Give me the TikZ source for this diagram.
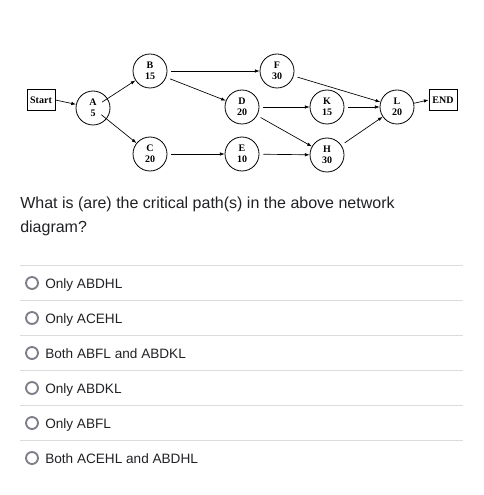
\documentclass[tikz,border=0pt]{standalone}
\usepackage{fontspec}
\setmainfont{Liberation Serif}
\newfontfamily\formfont{Liberation Sans}
\usetikzlibrary{arrows.meta}

\definecolor{formtext}{HTML}{202124}
\definecolor{radiogray}{HTML}{807C88}
\definecolor{rulegray}{HTML}{DADCE0}

\tikzset{
  activity/.style={draw, circle, line width=0.6pt, minimum size=25.5pt, inner sep=0pt,
    align=center, font=\bfseries\fontsize{7.5}{8.25}\selectfont},
  terminal/.style={draw, line width=0.6pt, minimum width=21pt, minimum height=16pt,
    inner sep=1pt, font=\bfseries\fontsize{7.5}{8.25}\selectfont},
  link/.style={-{Latex[length=3.5pt,width=2.6pt]}, line width=0.5pt, shorten <=3pt},
  question/.style={anchor=north west, align=left, inner sep=0pt, text=formtext,
    font=\formfont\fontsize{12}{18}\selectfont},
  choice/.style={anchor=base west, inner sep=0pt, text=formtext,
    font=\formfont\fontsize{10.2}{12}\selectfont},
  radio/.style={draw=radiogray, line width=1.4pt, circle, minimum size=9pt, inner sep=0pt},
  divider/.style={draw=rulegray, line width=0.75pt}
}

\begin{document}
\begin{tikzpicture}[x=0.75pt,y=-0.75pt]

  \useasboundingbox (0,0) rectangle (484,495);

  % Network
  \node[terminal] (start) at (41,100) {Start};
  \node[activity] (A) at (93,108) {A\\5};
  \node[activity] (B) at (150,71) {B\\15};
  \node[activity] (C) at (150,154) {C\\20};
  \node[activity] (D) at (242,107) {D\\20};
  \node[activity] (E) at (242,154) {E\\10};
  \node[activity] (F) at (277,71) {F\\30};
  \node[activity] (K) at (327,107) {K\\15};
  \node[activity] (H) at (327,155) {H\\30};
  \node[activity] (L) at (397,107) {L\\20};
  \node[terminal] (end) at (443,100) {END};

  % Precedence arrows
  \draw[link,shorten <=0pt] (start.east) -- (A);
  \draw[link,shorten <=-5pt] (A) -- (B);
  \draw[link,shorten <=-5pt] (A) -- (C);
  \draw[link] (B) -- (F);
  \draw[link] (B) -- (D);
  \draw[link] (C) -- (E);
  \draw[link] (D) -- (K);
  \draw[link] (D) -- (H);
  \draw[link] (E) -- (H);
  \draw[link] (F) -- (L);
  \draw[link] (K) -- (L);
  \draw[link] (H) -- (L);
  \draw[link,shorten <=0pt] (L) -- (end.west);

  % Question
  \node[question] (quest) at (20,197)
    {What is (are) the critical path(s) in the above network\\diagram?};

  % Answer choices
  \foreach \txt [count=\i] in {Only ABDHL, Only ACEHL, Both ABFL and ABDKL,
      Only ABDKL, Only ABFL, Both ACEHL and ABDHL} {
    \draw[divider] (20,{265+35*(\i-1)}) -- (463,{265+35*(\i-1)});
    \node[radio] (radio\i) at (32,{283+35*(\i-1)}) {};
    \node[choice] (opt\i) at (45,{288+35*(\i-1)}) {\txt};
  }

\end{tikzpicture}
\end{document}
